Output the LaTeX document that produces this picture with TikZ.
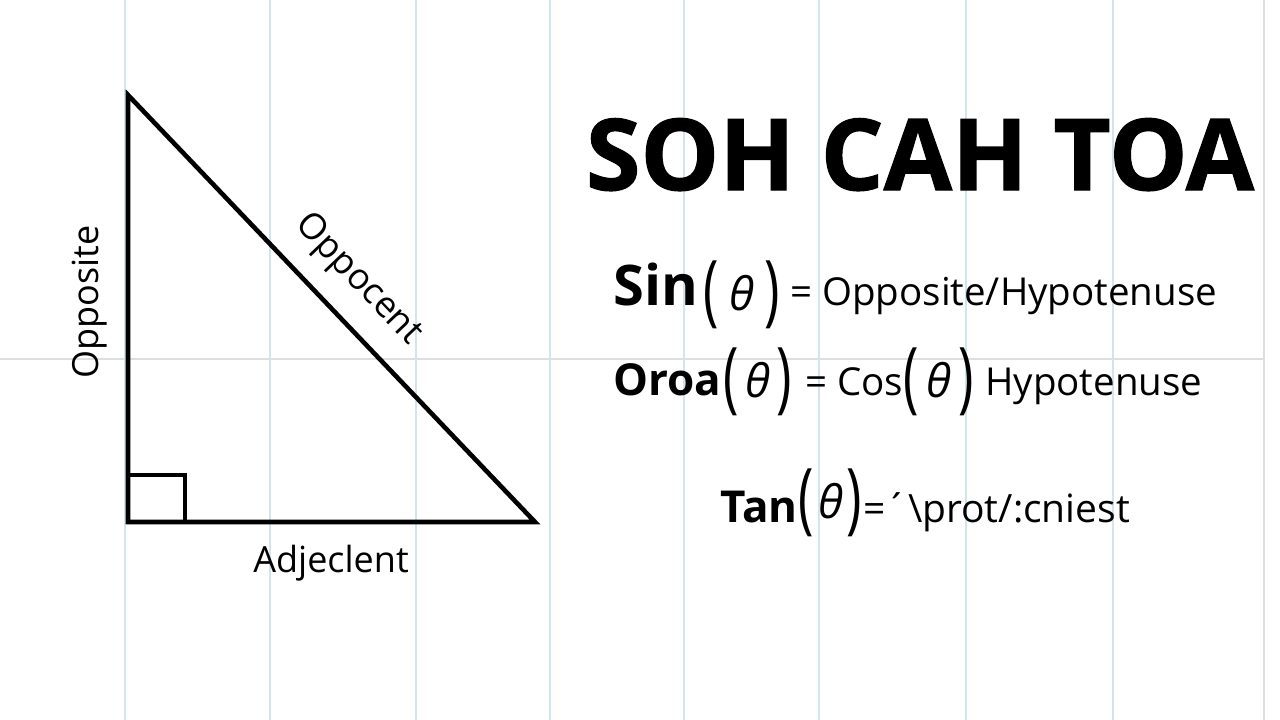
\documentclass[tikz,border=0pt]{standalone}
\usepackage{fontspec}
\setmainfont{Open Sans}
\newfontfamily\heavy{Open Sans}[BoldFeatures={FakeBold=1.2}]
\definecolor{gridblue}{RGB}{210,229,237}
\definecolor{gridgray}{RGB}{220,223,225}
\tikzset{
  gridline/.style={draw=gridblue, line width=1.3pt},
  hgridline/.style={draw=gridgray, line width=1.3pt},
  side/.style={line width=4.6pt, line join=miter},
  corner/.style={line width=3.8pt},
  lab/.style={font=\fontsize{36}{40}\selectfont, inner sep=0pt},
  eqtext/.style={font=\fontsize{38.5}{42}\selectfont, inner sep=0pt, anchor=base west},
  fname/.style={font=\bfseries\fontsize{44}{48}\selectfont, inner sep=0pt, anchor=base west},
  title/.style={font=\heavy\bfseries\fontsize{99}{100}\selectfont, inner sep=0pt, anchor=base},
  paren/.style={font=\fontsize{52}{52}\selectfont, inner sep=0pt},
  thet/.style={font=\itshape\fontsize{46}{46}\selectfont, inner sep=0pt, anchor=center},
}
\newcommand{\ThPar}[4]{%
  \node[paren, anchor=west] (#1l) at (#2,#4) {\scalebox{1}[1.5]{(}};
  \node[paren, anchor=east] (#1r) at (#3,#4) {\scalebox{1}[1.5]{)}};
  \node[thet] (#1t) at ({(#2+#3)/2+1},{#4-2}) {θ};
}
\begin{document}
\begin{tikzpicture}[x=1pt,y=-1pt]
\useasboundingbox (0,0) rectangle (1280,720);
\fill[white] (0,0) rectangle (1280,720);
% grid
\foreach \gx in {125,270,416,550,684,819,966,1113} {
  \draw[gridline] (\gx,0) -- (\gx,720);
}
\draw[hgridline] (1264,0) -- (1264,720);
\draw[hgridline] (0,359) -- (1264,359);
% triangle
\coordinate (A) at (128,95);
\coordinate (B) at (128,522);
\coordinate (C) at (535,522);
\draw[side] (A) -- (B) -- (C) -- cycle;
\draw[corner] (128,475) rectangle (185,522);
% side labels
\node[lab, rotate=90] (opp) at (90,302) {Opposite};
\node[lab, rotate=-46.4] (hyp) at (358,280) {Oppocent};
\node[lab, anchor=base] (adj) at (331,572) {Adjeclent};
% title
\node[title] (ttl) at (920,190) {SOH CAH TOA};
% sin line
\node[fname, font=\bfseries\fontsize{56}{60}\selectfont] (sin) at (613,305) {Sin};
\ThPar{sp}{703}{780}{295}
\node[eqtext] (sineq) at (790,305) {= Opposite/Hypotenuse};
% cos line
\node[fname] (oroa) at (613,395) {Oroa};
\ThPar{cp}{723}{792}{382}
\node[eqtext] (coseq) at (805,395) {= Cos};
\ThPar{cq}{903}{974}{382}
\node[eqtext] (cosh) at (985,395) {Hypotenuse};
% tan line
\node[fname] (tan) at (720,522) {Tan};
\ThPar{tp}{798}{862}{503}
\node[eqtext, font=\fontsize{39}{42}\selectfont] (taneq) at (863,522) {=´\textbackslash prot/:cniest};
\end{tikzpicture}
\end{document}
